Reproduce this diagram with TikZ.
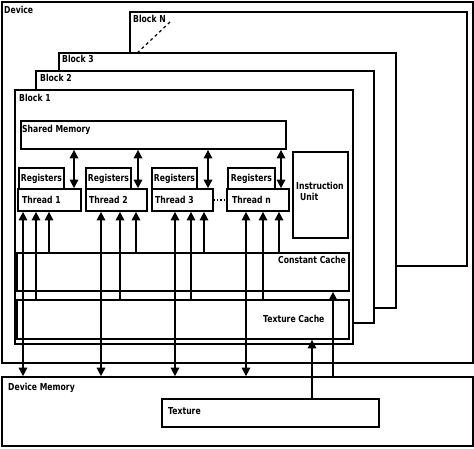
\documentclass[tikz,border=0pt]{standalone}
\usepackage{fontspec}
\setmainfont{DejaVu Sans}[FakeStretch=0.88]
\newfontfamily\lblfont{DejaVu Sans Bold}[FakeStretch=0.8]
\usetikzlibrary{arrows.meta,fit}
\begin{document}
\begin{tikzpicture}[x=1pt,y=-1pt,
 box/.style={draw, line width=1.7pt, fill=white, inner sep=0pt},
 lbl/.style={font=\lblfont\fontsize{9.6}{11}\selectfont, inner sep=0pt, anchor=west},
 ctr/.style={font=\lblfont\fontsize{9.6}{11}\selectfont, inner sep=0pt},
 tip/.tip={Triangle[width=8.5pt,length=8.5pt]},
 up/.style={line width=1.6pt, -tip},
 dbl/.style={line width=1.6pt, tip-tip}]
\useasboundingbox (0,0) rectangle (474,448);
% device and blocks
\node[box, fit={(2,2)(473,363)}] (dev) {};
\node[lbl] (devl) at (4,10) {Device};
\node[box, fit={(130,12)(467,266)}] (blkN) {};
\node[lbl] (blkNl) at (133,19) {Block N};
\node[box, fit={(59,53)(396,308)}] (blk3) {};
\node[lbl] (blk3l) at (62,59) {Block 3};
\node[box, fit={(36,71)(374,323)}] (blk2) {};
\node[lbl] (blk2l) at (40,78) {Block 2};
\node[box, fit={(15,90)(353,344)}] (blk1) {};
\node[lbl] (blk1l) at (19,98) {Block 1};
\coordinate (bnd) at (170,22);
\draw[dashed, line width=1.2pt] (bnd) -- (blk3.north -| 138,0);
% shared memory
\node[box, fit={(21,121)(286,149)}] (shm) {};
\node[lbl] (shml) at (22,130) {Shared Memory};
% threads and registers
\node[box, fit={(19,168)(64,189)}] (reg1) {};
\node[ctr] at (reg1.center) (reg1l) {Registers};
\node[box, fit={(18,189)(81,211)}] (th1) {};
\node[lbl] (th1l) at (22,200) {Thread 1};
\node[box, fit={(86,168)(131,189)}] (reg2) {};
\node[ctr] at (reg2.center) (reg2l) {Registers};
\node[box, fit={(86,189)(147,211)}] (th2) {};
\node[lbl] (th2l) at (89,200) {Thread 2};
\node[box, fit={(152,168)(197,189)}] (reg3) {};
\node[ctr] at (reg3.center) (reg3l) {Registers};
\node[box, fit={(152,189)(213,211)}] (th3) {};
\node[lbl] (th3l) at (155,200) {Thread 3};
\node[box, fit={(228,168)(275,189)}] (regn) {};
\node[ctr] at (regn.center) (regnl) {Registers};
\node[box, fit={(227,189)(289,211)}] (thn) {};
\node[lbl] (thnl) at (232,200) {Thread n};
\draw[dotted, line width=1.3pt] (th3.east) -- (thn.west);
% instruction unit
\node[box, fit={(293,152)(348,238)}] (iu) {};
\node[lbl] (iul1) at (296,186) {Instruction};
\node[lbl] (iul2) at (300,197) {Unit};
% caches
\node[box, fit={(17,253)(349,291)}] (cc) {};
\node[lbl, anchor=east] (ccl) at (346,260) {Constant Cache};
\node[box, fit={(17,300)(349,339)}] (tc) {};
\node[lbl] (tcl) at (263,319) {Texture Cache};
% device memory
\node[box, fit={(2,377)(473,446)}] (dm) {};
\node[lbl] (dml) at (8,388) {Device Memory};
\node[box, fit={(162,399)(379,427)}] (tex) {};
\node[lbl] (texl) at (168,411) {Texture};
% shared memory <-> threads
\draw[dbl] (shm.south -| 74,0) -- (th1.north -| 74,0);
\draw[dbl] (shm.south -| 138,0) -- (th2.north -| 138,0);
\draw[dbl] (shm.south -| 208,0) -- (th3.north -| 208,0);
\draw[dbl] (shm.south -| 281,0) -- (thn.north -| 281,0);
% threads <-> device memory
\draw[dbl] (dm.north -| 23,0) -- (th1.south -| 23,0);
\draw[dbl] (dm.north -| 101,0) -- (th2.south -| 101,0);
\draw[dbl] (dm.north -| 175,0) -- (th3.south -| 175,0);
\draw[dbl] (dm.north -| 246,0) -- (thn.south -| 246,0);
% texture cache -> threads
\draw[up] (tc.north -| 36,0) -- (th1.south -| 36,0);
\draw[up] (tc.north -| 120,0) -- (th2.south -| 120,0);
\draw[up] (tc.north -| 191,0) -- (th3.south -| 191,0);
\draw[up] (tc.north -| 263,0) -- (thn.south -| 263,0);
% constant cache -> threads
\draw[up] (cc.north -| 49,0) -- (th1.south -| 49,0);
\draw[up] (cc.north -| 136,0) -- (th2.south -| 136,0);
\draw[up] (cc.north -| 204,0) -- (th3.south -| 204,0);
\draw[up] (cc.north -| 279,0) -- (thn.south -| 279,0);
% memory -> caches
\draw[up] (dm.north -| 333,0) -- (cc.south -| 333,0);
\draw[up] (tex.north -| 312,0) -- (tc.south -| 312,0);
\end{tikzpicture}
\end{document}
